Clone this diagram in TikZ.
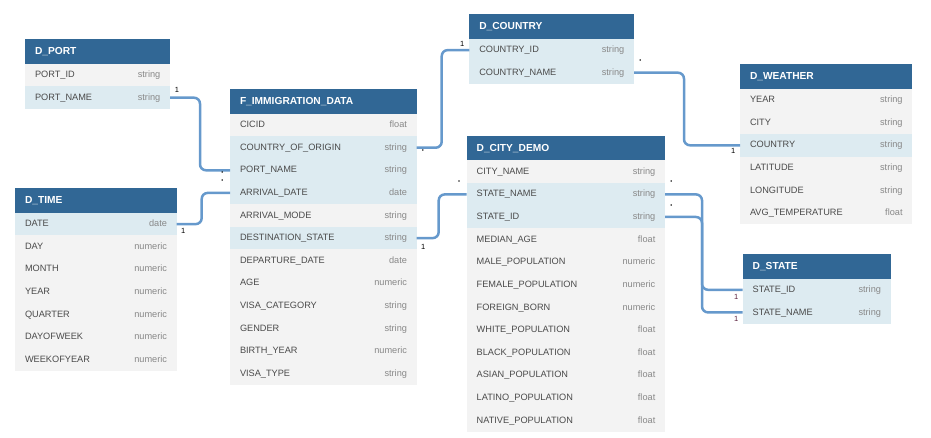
\documentclass[tikz,border=0pt]{standalone}
\usepackage{fontspec}
\setmainfont{Liberation Sans}
\usetikzlibrary{positioning}

\definecolor{headblue}{HTML}{316795}
\definecolor{rowgrey}{HTML}{F3F3F3}
\definecolor{rowblue}{HTML}{DDEBF1}
\definecolor{fldtext}{HTML}{4A4A4A}
\definecolor{typetext}{HTML}{888888}
\definecolor{linkblue}{HTML}{6699CC}
\definecolor{cardred}{HTML}{5A1F3C}

\begin{document}
\begin{tikzpicture}[
    x=1pt, y=-1pt,
    head/.style={
        rectangle,
        fill=headblue,
        text=white,
        font=\bfseries\fontsize{10.2}{12}\selectfont,
        minimum height=24.5pt,
        inner xsep=10pt,
        inner ysep=0pt,
        outer sep=0pt,
        text width=#1,
        text height=7.3pt,
        text depth=1.6pt,
        anchor=north west,
        align=left
    },
    field/.style={
        rectangle,
        fill=rowgrey,
        text=fldtext,
        font=\fontsize{9.2}{11}\selectfont,
        minimum height=22.6pt,
        inner xsep=10pt,
        inner ysep=0pt,
        outer sep=0pt,
        text width=#1,
        text height=6.7pt,
        text depth=1.5pt,
        anchor=north,
        align=left
    },
    dtype/.style={
        anchor=east,
        xshift=-9.5pt,
        inner sep=0pt,
        text=typetext,
        font=\fontsize{9.2}{11}\selectfont,
        text height=6.7pt,
        text depth=1.5pt
    },
    link/.style={draw=linkblue, line width=2.5pt, rounded corners=6pt},
    card/.style={inner sep=0pt, font=\fontsize{7.5}{9}\selectfont},
    many/.style={inner sep=0pt, font=\bfseries\fontsize{9}{10}\selectfont}
]
    \useasboundingbox (0,0) rectangle (931,438);

    % tables
    \node (port) [head=125pt, alias=port-0] at (25,39.3) {D\_PORT};
    \foreach \fld/\typ/\bg [count=\i] in {PORT\_ID/string/rowgrey, PORT\_NAME/string/rowblue} {
        \pgfmathtruncatemacro\prev{\i-1}
        \node (port-\i) [field=125pt, fill=\bg, below=0pt of port-\prev, label={[dtype]east:\typ}] {\fld};
    }

    \node (imm) [head=166.7pt, alias=imm-0] at (230,89.3) {F\_IMMIGRATION\_DATA};
    \foreach \fld/\typ/\bg [count=\i] in {CICID/float/rowgrey, COUNTRY\_OF\_ORIGIN/string/rowblue,
        PORT\_NAME/string/rowblue, ARRIVAL\_DATE/date/rowblue, ARRIVAL\_MODE/string/rowgrey,
        DESTINATION\_STATE/string/rowblue, DEPARTURE\_DATE/date/rowgrey, AGE/numeric/rowgrey,
        VISA\_CATEGORY/string/rowgrey, GENDER/string/rowgrey, BIRTH\_YEAR/numeric/rowgrey,
        VISA\_TYPE/string/rowgrey} {
        \pgfmathtruncatemacro\prev{\i-1}
        \node (imm-\i) [field=166.7pt, fill=\bg, below=0pt of imm-\prev, label={[dtype]east:\typ}] {\fld};
    }

    \node (time) [head=141.7pt, alias=time-0] at (15,188.3) {D\_TIME};
    \foreach \fld/\typ/\bg [count=\i] in {DATE/date/rowblue, DAY/numeric/rowgrey, MONTH/numeric/rowgrey,
        YEAR/numeric/rowgrey, QUARTER/numeric/rowgrey, DAYOFWEEK/numeric/rowgrey,
        WEEKOFYEAR/numeric/rowgrey} {
        \pgfmathtruncatemacro\prev{\i-1}
        \node (time-\i) [field=141.7pt, fill=\bg, below=0pt of time-\prev, label={[dtype]east:\typ}] {\fld};
    }

    \node (country) [head=144.7pt, alias=country-0] at (469.3,14.3) {D\_COUNTRY};
    \foreach \fld/\typ/\bg [count=\i] in {COUNTRY\_ID/string/rowblue, COUNTRY\_NAME/string/rowblue} {
        \pgfmathtruncatemacro\prev{\i-1}
        \node (country-\i) [field=144.7pt, fill=\bg, below=0pt of country-\prev, label={[dtype]east:\typ}] {\fld};
    }

    \node (city) [head=178.3pt, alias=city-0] at (466.7,136) {D\_CITY\_DEMO};
    \foreach \fld/\typ/\bg [count=\i] in {CITY\_NAME/string/rowgrey, STATE\_NAME/string/rowblue,
        STATE\_ID/string/rowblue, MEDIAN\_AGE/float/rowgrey, MALE\_POPULATION/numeric/rowgrey,
        FEMALE\_POPULATION/numeric/rowgrey, FOREIGN\_BORN/numeric/rowgrey,
        WHITE\_POPULATION/float/rowgrey, BLACK\_POPULATION/float/rowgrey,
        ASIAN\_POPULATION/float/rowgrey, LATINO\_POPULATION/float/rowgrey,
        NATIVE\_POPULATION/float/rowgrey} {
        \pgfmathtruncatemacro\prev{\i-1}
        \node (city-\i) [field=178.3pt, fill=\bg, below=0pt of city-\prev, label={[dtype]east:\typ}] {\fld};
    }

    \node (weather) [head=152.3pt, alias=weather-0] at (740,64.3) {D\_WEATHER};
    \foreach \fld/\typ/\bg [count=\i] in {YEAR/string/rowgrey, CITY/string/rowgrey, COUNTRY/string/rowblue,
        LATITUDE/string/rowgrey, LONGITUDE/string/rowgrey, AVG\_TEMPERATURE/float/rowgrey} {
        \pgfmathtruncatemacro\prev{\i-1}
        \node (weather-\i) [field=152.3pt, fill=\bg, below=0pt of weather-\prev, label={[dtype]east:\typ}] {\fld};
    }

    \node (state) [head=128pt, alias=state-0] at (742.7,254) {D\_STATE};
    \foreach \fld/\typ/\bg [count=\i] in {STATE\_ID/string/rowblue, STATE\_NAME/string/rowblue} {
        \pgfmathtruncatemacro\prev{\i-1}
        \node (state-\i) [field=128pt, fill=\bg, below=0pt of state-\prev, label={[dtype]east:\typ}] {\fld};
    }

    % references
    \draw [link] (port-2.east) -- ++(30,0) |- (imm-3.west);
    \draw [link] (time-1.east) -- ++(25,0) |- (imm-4.west);
    \draw [link] (imm-2.east) -- ++(25,0) |- (country-1.west);
    \draw [link] (country-2.east) -- ++(50,0) |- (weather-3.west);
    \draw [link] (imm-6.east) -- ++(22,0) |- (city-2.west);
    \draw [link] (city-2.east) -- ++(37,0) |- (state-2.west);
    \draw [link] (city-3.east) -- ++(37,0) |- (state-1.west);

    \node (port-one) [card] at ([shift={(7,-7.5)}]port-2.east) {1};
    \node (imm-port-many) [many] at ([shift={(-7.3,3.4)}]imm-3.west) {·};
    \node (time-one) [card] at ([shift={(6.6,7.2)}]time-1.east) {1};
    \node (imm-date-many) [many] at ([shift={(-7.3,-11)}]imm-4.west) {·};
    \node (imm-country-many) [many] at ([shift={(6.3,4)}]imm-2.east) {·};
    \node (country-one) [card] at ([shift={(-7,-6.4)}]country-1.west) {1};
    \node (country-many) [many] at ([shift={(6.7,-10.8)}]country-2.east) {·};
    \node (weather-one) [card] at ([shift={(-6.7,5.9)}]weather-3.west) {1};
    \node (imm-one) [card] at ([shift={(6.6,8.4)}]imm-6.east) {1};
    \node (city-many) [many] at ([shift={(-7.4,-11.6)}]city-2.west) {·};
    \node (city-name-many) [many] at ([shift={(6.7,-11.6)}]city-2.east) {·};
    \node (city-id-many) [many] at ([shift={(6.7,-10.5)}]city-3.east) {·};
    \node (state-name-one) [card, text=cardred] at ([shift={(-6.5,6.6)}]state-2.west) {1};
    \node (state-id-one) [card, text=cardred] at ([shift={(-6.5,7.6)}]state-1.west) {1};
\end{tikzpicture}
\end{document}
